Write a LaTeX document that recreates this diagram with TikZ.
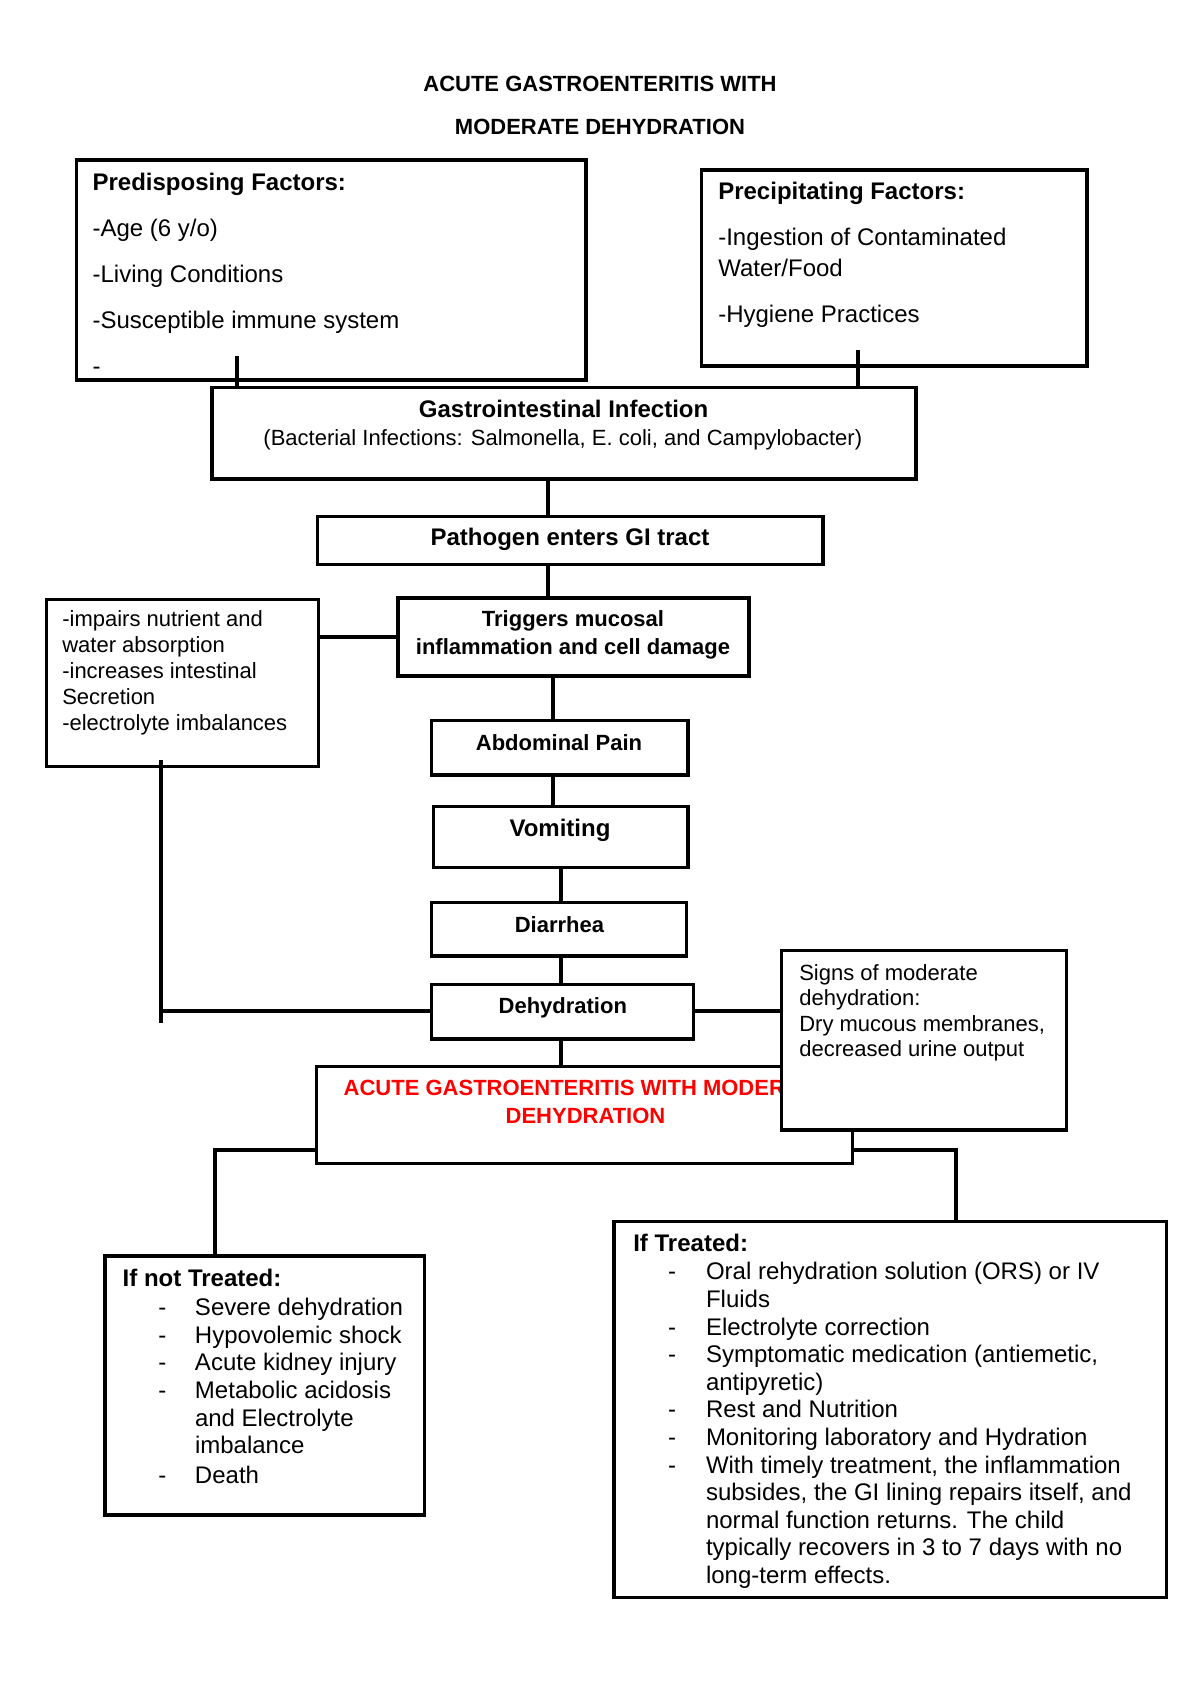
\documentclass[tikz,border=0pt]{standalone}
\usepackage{fontspec}
\setmainfont{Liberation Sans}
\usetikzlibrary{fit}
\newcommand\fl{\rule{0pt}{10pt}}
\newcommand\fsz[2]{\fontsize{#1}{#2}\selectfont}
\begin{document}
\begin{tikzpicture}[x=0.5pt,y=-0.5pt,
  box/.style={draw, line width=1.65pt, fill=white, inner sep=0pt, outer sep=0pt},
  conn/.style={line width=2pt},
  txt/.style={inner sep=0pt, outer sep=0pt, align=left, anchor=north west},
  ctxt/.style={inner sep=0pt, outer sep=0pt, align=center, anchor=north},
  btxt/.style={inner sep=0pt, outer sep=0pt, anchor=base, font=\bfseries\fsz{11}{13}},
  bbtxt/.style={inner sep=0pt, outer sep=0pt, anchor=base, font=\bfseries\fsz{12}{14}},
]
\useasboundingbox (0,0) rectangle (1200,1696);
\fill[white] (0,0) rectangle (1200,1696);

% title
\node[ctxt, font=\bfseries\fsz{11}{21.65}] (title) at (600,71.7)
  {\fl ACUTE GASTROENTERITIS WITH\\ MODERATE DEHYDRATION};

% boxes
\node[box, fit={(76.5,160) (586,380)}] (pre) {};
\node[box, fit={(701.7,170) (1087,366)}] (prec) {};
\node[box, fit={(212,387.7) (916,479)}] (gi) {};
\node[box, fit={(317.6,516.7) (823,564.5)}] (path) {};
\node[box, fit={(398,598) (749,676)}] (trig) {};
\node[box, fit={(46.7,599.3) (318.7,766.7)}] (left) {};
\node[box, fit={(431.7,720.7) (688,775)}] (abd) {};
\node[box, fit={(433.3,806.7) (688,867.3)}] (vom) {};
\node[box, fit={(431.7,902.3) (686.7,956)}] (dia) {};
\node[box, fit={(431.7,984.3) (693.3,1039)}] (deh) {};
\node[box, fit={(316.7,1066.7) (852.3,1163.5)}] (red) {};
\node[ctxt, text=red, font=\bfseries\fsz{11}{14.15}] (redtxt) at (585.5,1075)
  {\fl ACUTE GASTROENTERITIS WITH MODERATE\\ DEHYDRATION};
\node[box, fit={(781.7,950.7) (1066.7,1130)}] (signs) {};
\node[box, fit={(105,1256) (424.3,1515)}] (nt) {};
\node[box, fit={(614,1221.7) (1166.5,1597.3)}] (tr) {};

% texts
\node[txt, font=\fsz{12}{23.1}] (pretxt) at (92.6,170)
  {\fl\textbf{Predisposing Factors:}\\ -Age (6 y/o)\\ -Living Conditions\\ -Susceptible immune system\\ -};
\node[txt, font=\fsz{12}{15.35}] (prectxt) at (718.3,180)
  {\fl\textbf{Precipitating Factors:}\\[7.65pt] -Ingestion of Contaminated\\ Water/Food\\[7.65pt] -Hygiene Practices};
\node[bbtxt] (gititle) at (563.6,417.7) {Gastrointestinal Infection};
\node[inner sep=0pt, anchor=base, font=\fsz{11}{13}] (gisub) at (562.8,445)
  {(Bacterial Infections: Salmonella, E. coli, and Campylobacter)};
\node[bbtxt] (pathtxt) at (570,545) {Pathogen enters GI tract};
\node[ctxt, font=\bfseries\fsz{11}{13.65}] (trigtxt) at (573,606.7)
  {\fl Triggers mucosal\\ inflammation and cell damage};
\node[txt, font=\fsz{11}{13}] (lefttxt) at (62.3,606)
  {\fl -impairs nutrient and\\ water absorption\\ -increases intestinal\\ Secretion\\ -electrolyte imbalances};
\node[btxt] (abdtxt) at (559,750) {Abdominal Pain};
\node[bbtxt] (vomtxt) at (560,836.7) {Vomiting};
\node[btxt] (diatxt) at (559.4,932.3) {Diarrhea};
\node[btxt] (dehtxt) at (562.8,1013.3) {Dehydration};
\node[txt, font=\fsz{11}{12.75}] (signstxt) at (799.3,960)
  {\fl Signs of moderate\\ dehydration:\\ Dry mucous membranes,\\ decreased urine output};
\node[txt, font=\fsz{12}{13.8}] (nttxt) at (122.7,1266.7)
  {\fl\textbf{If not Treated:}\\[0.7pt]
   \hspace*{17.8pt}\makebox[18.35pt][l]{-}Severe dehydration\\
   \hspace*{17.8pt}\makebox[18.35pt][l]{-}Hypovolemic shock\\
   \hspace*{17.8pt}\makebox[18.35pt][l]{-}Acute kidney injury\\
   \hspace*{17.8pt}\makebox[18.35pt][l]{-}Metabolic acidosis\\
   \hspace*{36.15pt}and Electrolyte\\
   \hspace*{36.15pt}imbalance\\[1.2pt]
   \hspace*{17.8pt}\makebox[18.35pt][l]{-}Death};
\node[txt, font=\fsz{12}{13.79}] (trtxt) at (633.3,1231.7)
  {\fl\textbf{If Treated:}\\[0.35pt]
   \hspace*{17.35pt}\makebox[19pt][l]{-}Oral rehydration solution (ORS) or IV\\
   \hspace*{36.35pt}Fluids\\
   \hspace*{17.35pt}\makebox[19pt][l]{-}Electrolyte correction\\
   \hspace*{17.35pt}\makebox[19pt][l]{-}Symptomatic medication (antiemetic,\\
   \hspace*{36.35pt}antipyretic)\\
   \hspace*{17.35pt}\makebox[19pt][l]{-}Rest and Nutrition\\
   \hspace*{17.35pt}\makebox[19pt][l]{-}Monitoring laboratory and Hydration\\
   \hspace*{17.35pt}\makebox[19pt][l]{-}With timely treatment, the inflammation\\
   \hspace*{36.35pt}subsides, the GI lining repairs itself, and\\
   \hspace*{36.35pt}normal function returns. The child\\
   \hspace*{36.35pt}typically recovers in 3 to 7 days with no\\
   \hspace*{36.35pt}long-term effects.};

% helper coordinates
\coordinate (cpre) at (237.2,356);
\coordinate (cprec) at (858,350);
\coordinate (x548) at (548,0);
\coordinate (x553) at (553.3,0);
\coordinate (x561) at (561,0);
\coordinate (y637) at (0,637.3);
\coordinate (cleft) at (160.7,760);
\coordinate (cleftend) at (160.7,1022.8);
\coordinate (y1011) at (0,1010.7);
\coordinate (y1149) at (0,1149.5);
\coordinate (x215) at (215,0);
\coordinate (x956) at (955.7,0);

% connectors
\draw[conn] (cpre) -- (cpre |- gi.north);
\draw[conn] (cprec) -- (cprec |- gi.north);
\draw[conn] (x548 |- gi.south) -- (x548 |- path.north);
\draw[conn] (x548 |- path.south) -- (x548 |- trig.north);
\draw[conn] (left.east |- y637) -- (trig.west |- y637);
\draw[conn] (x553 |- trig.south) -- (x553 |- abd.north);
\draw[conn] (x553 |- abd.south) -- (x553 |- vom.north);
\draw[conn] (vom.south -| x561) -- (dia.north -| x561);
\draw[conn] (dia.south -| x561) -- (deh.north -| x561);
\draw[conn] (cleft) -- (cleftend);
\draw[conn] (cleft |- y1011) -- (deh.west |- y1011);
\draw[conn] (deh.east |- y1011) -- (signs.west |- y1011);
\draw[conn] (deh.south -| x561) -- (red.north -| x561);
\draw[conn] (red.west |- y1149) -- (x215 |- y1149) -- (x215 |- nt.north);
\draw[conn] (red.east |- y1149) -- (x956 |- y1149) -- (x956 |- tr.north);
\end{tikzpicture}
\end{document}
